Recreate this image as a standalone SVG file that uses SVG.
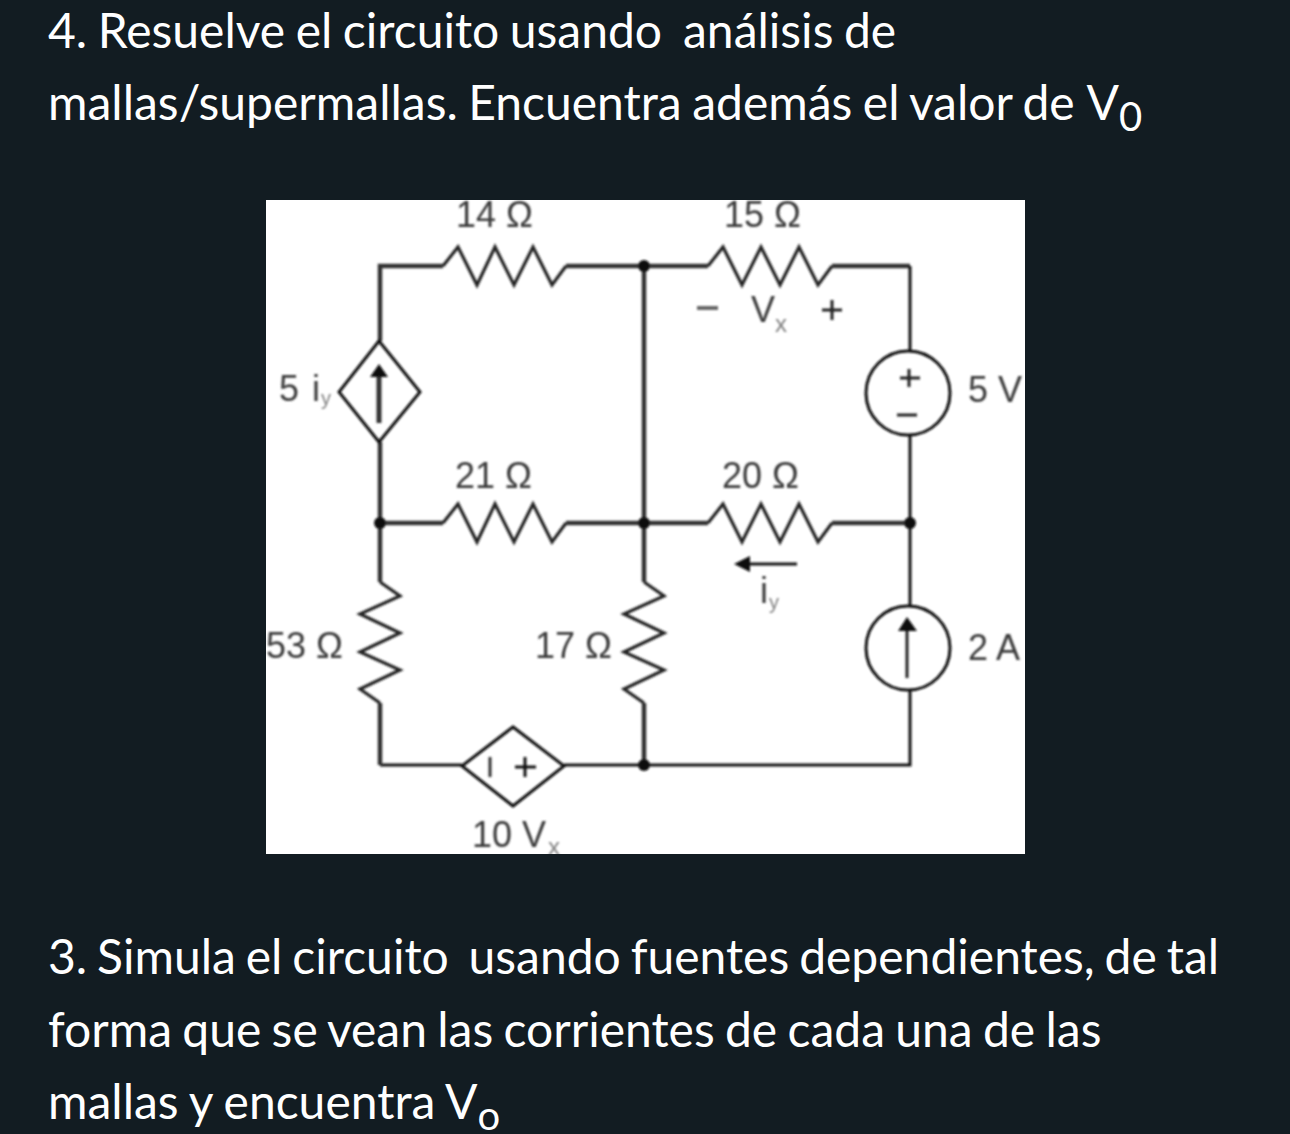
<svg xmlns="http://www.w3.org/2000/svg" width="1290" height="1134" viewBox="0 0 1290 1134">
<style>
.h{font-family:Lato,"Liberation Sans",sans-serif;font-size:48px;word-spacing:-1.8px;fill:#fff;white-space:pre}
.sub{font-size:40px}
.l{font-family:"Liberation Sans",Arial,sans-serif;font-size:36px;fill:#3a3a3a}
.s{font-family:"Liberation Sans",Arial,sans-serif;font-size:24px;fill:#808080}
.w{fill:none;stroke:#333;stroke-width:4.5}
.r{fill:none;stroke:#222;stroke-width:3.2}
.t{fill:none;stroke:#111;stroke-width:3}
.a{fill:#111}
.d{fill:#111}
</style>
<defs>
<clipPath id="ic"><rect x="266" y="200" width="759" height="654"/></clipPath>
<filter id="soft" x="-5%" y="-5%" width="110%" height="110%"><feGaussianBlur stdDeviation="0.8"/></filter>
</defs>
<rect width="1290" height="1134" fill="#121c22"/>
<g id="heading">
<text class="h" x="48" y="48">4. Resuelve el circuito usando  análisis de</text>
<text class="h" x="48" y="120">mallas/supermallas. Encuentra además el valor de <tspan dx="3">V</tspan><tspan class="sub" dy="11">0</tspan></text>
</g>
<g id="circuit" clip-path="url(#ic)">
<rect x="266" y="200" width="759" height="654" fill="#fff"/>
<g filter="url(#soft)">
<g id="connectors">
<path class="w" d="M380 341V266H443M566 266H708M832 266H910"/>
<path class="t" d="M910 266V351M910 435V606M910 690V765H564M462 765H380"/>
<path class="w" d="M644 266V582M644 703V765M380 442V582M380 703V765"/>
<path class="w" d="M380 523H443M566 523H708M832 523H910"/>
<path class="r" d="M443 266L458 247L477 285L495 247L514 285L533 247L552 285L566 266"/>
<path class="r" d="M708 266L723 247L742 285L761 247L780 285L799 247L818 285L832 266"/>
<path class="r" d="M443 523L458 504L477 542L495 504L514 542L533 504L552 542L566 523"/>
<path class="r" d="M708 523L723 504L742 542L761 504L780 542L799 504L818 542L832 523"/>
<path class="r" d="M380 582L400 596L360 614L400 633L360 652L400 670L360 689L380 703"/>
<path class="r" d="M644 582L664 596L624 614L664 633L624 652L664 670L624 689L644 703"/>
</g>
<g id="n-14"><text class="l" x="456" y="227">14 Ω</text></g>
<g id="n-15"><text class="l" x="724" y="227">15 Ω</text></g>
<g id="n-21"><text class="l" x="455" y="488">21 Ω</text></g>
<g id="n-20"><text class="l" x="722" y="488">20 Ω</text></g>
<g id="n-53"><text class="l" x="266" y="658">53 Ω</text></g>
<g id="n-17"><text class="l" x="535" y="658">17 Ω</text></g>
<g id="n-vx">
<path d="M697 308H718" stroke="#666" stroke-width="4"/>
<text class="l" x="751" y="322">V</text><text class="s" x="775" y="332">x</text>
<path d="M832 300V320M822 310H842" stroke="#222" stroke-width="3"/>
</g>
<g id="n-5iy">
<path class="t" d="M379 341L420 392L379 442L339 392Z" fill="#fff"/>
<path d="M379 423V372" stroke="#333" stroke-width="5"/>
<path class="a" d="M379 364L370 377H388Z"/>
<text class="l" x="279" y="401" style="word-spacing:3px">5 i</text><text class="s" x="321" y="405" style="font-size:20px">y</text>
</g>
<g id="n-5v">
<circle class="t" cx="908" cy="393" r="42" fill="#fff"/>
<path d="M909 369V387M900 378H920M897 415H917" stroke="#222" stroke-width="3"/>
<text class="l" x="968" y="402">5 V</text>
</g>
<g id="n-2a">
<circle class="t" cx="908" cy="648" r="42" fill="#fff"/>
<path d="M907 678V625" stroke="#222" stroke-width="3"/>
<path class="a" d="M907 617L898 631H917Z"/>
<text class="l" x="968" y="660">2 A</text>
</g>
<g id="n-10vx">
<path class="t" d="M462 766L513 727L564 766L513 806Z" fill="#fff"/>
<path d="M490 757V777" stroke="#333" stroke-width="3"/>
<path d="M525 757V777M515 767H536" stroke="#111" stroke-width="3"/>
<text class="l" x="472" y="847">10 V</text><text class="s" x="548" y="855">x</text>
</g>
<g id="n-iy">
<path d="M797 564H748" stroke="#111" stroke-width="3"/>
<path class="a" d="M734 564L750 556V572Z"/>
<text class="l" x="760" y="603">i</text><text class="s" x="769" y="609" style="font-size:20px">y</text>
</g>
<g id="dots">
<circle class="d" cx="644" cy="266" r="6"/>
<circle class="d" cx="380" cy="523" r="6"/>
<circle class="d" cx="644" cy="523" r="6"/>
<circle class="d" cx="910" cy="523" r="6"/>
<circle class="d" cx="644" cy="765" r="6"/>
</g>
</g>
</g>
<g id="footer">
<text class="h" x="48" y="974" style="word-spacing:-2.4px">3. Simula el circuito  usando fuentes dependientes, de tal</text>
<text class="h" x="48" y="1047" style="word-spacing:-2px">forma que se vean las corrientes de cada una de las</text>
<text class="h" x="48" y="1119" style="word-spacing:-1px">mallas y encuentra V<tspan class="sub" dy="11">o</tspan></text>
</g>
</svg>
